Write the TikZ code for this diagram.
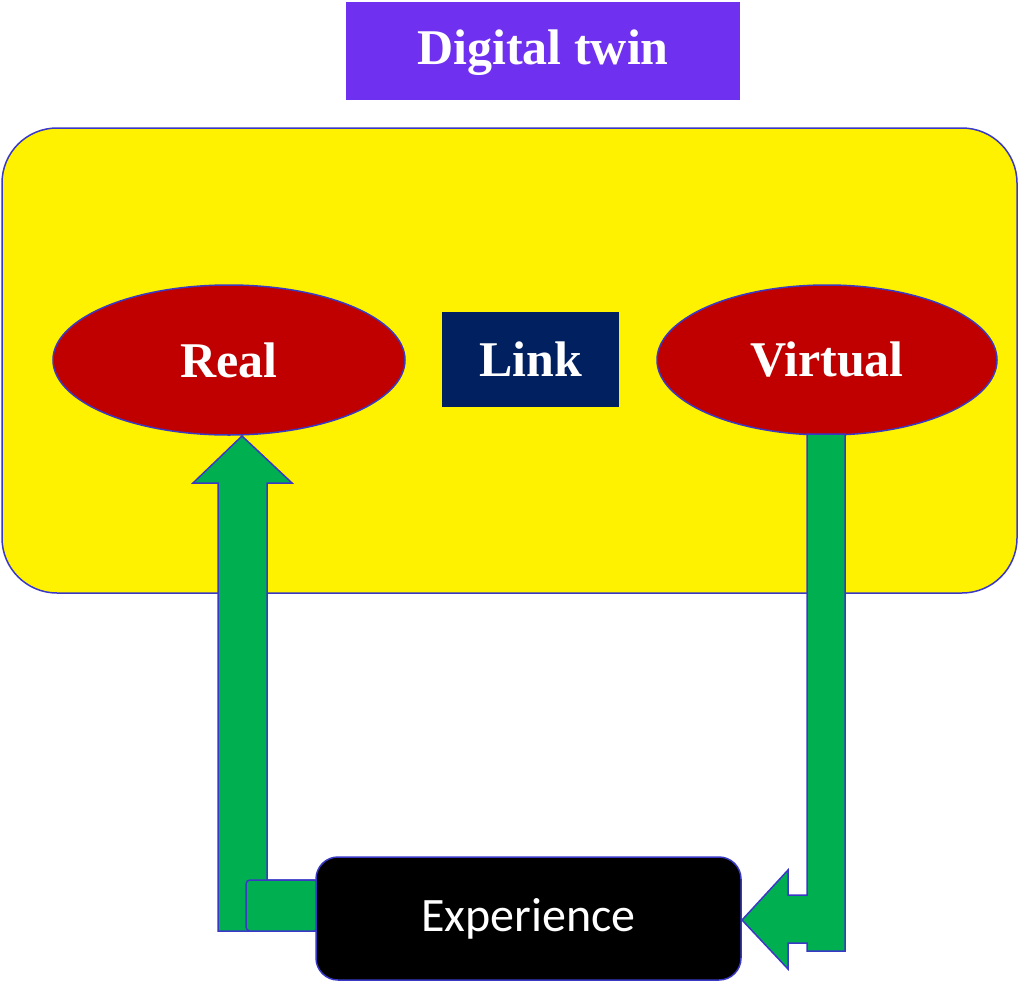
\documentclass[tikz,border=0pt]{standalone}
\usepackage{fontspec}
\usetikzlibrary{shapes.geometric}
\setmainfont{Liberation Serif}
\newfontfamily\calfont{Carlito}
\definecolor{grn}{HTML}{00B050}
\begin{document}
\begin{tikzpicture}[x=1pt,y=-1pt,
  edge/.style={draw=blue!55!gray, line width=1.5pt},
  ttl/.style={font=\fontsize{50}{50}\selectfont\bfseries, text=white},
  grnshape/.style={edge, fill=grn}]
\useasboundingbox (0,0) rectangle (1019,985);
\fill[fill={rgb,255:red,112;green,48;blue,240}] (346,2) rectangle (740,100);
\node[ttl] (dt) at (543,53) {Digital twin};
\draw[edge, fill=yellow, rounded corners=55] (2,128) rectangle (1017,593);
\node[ellipse, edge, fill={rgb,255:red,192;green,0;blue,0}, minimum width=352, minimum height=150, ttl] (real) at (229,360) {Real};
\node[ellipse, edge, fill={rgb,255:red,192;green,0;blue,0}, minimum width=340, minimum height=150, ttl] (virt) at (827,360) {Virtual};
\node[fill={rgb,255:red,0;green,32;blue,96}, minimum width=177, minimum height=95, ttl] (link) at (530.5,359.5) {Link};
% left arrow
\draw[grnshape] (218,931) -- (218,483) -- (193,483) -- (242,436) -- (292,483) -- (267,483) -- (267,880) -- (316,880) -- (316,931) -- cycle;
\draw[grnshape, rounded corners=4] (246,880) rectangle (318,931);
% right arrow
\draw[grnshape] (807,434) -- (845,434) -- (845,951) -- (807,951) -- (807,943) -- (788,943) -- (788,969) -- (742,920) -- (788,870) -- (788,895) -- (807,895) -- cycle;
\node[draw=blue!55!gray, line width=1.5pt, fill=black, rounded corners=22, minimum width=425, minimum height=123, text=white, font=\calfont\fontsize{48}{48}\selectfont] (exp) at (528.5,918.5) {Experience};
\end{tikzpicture}
\end{document}
